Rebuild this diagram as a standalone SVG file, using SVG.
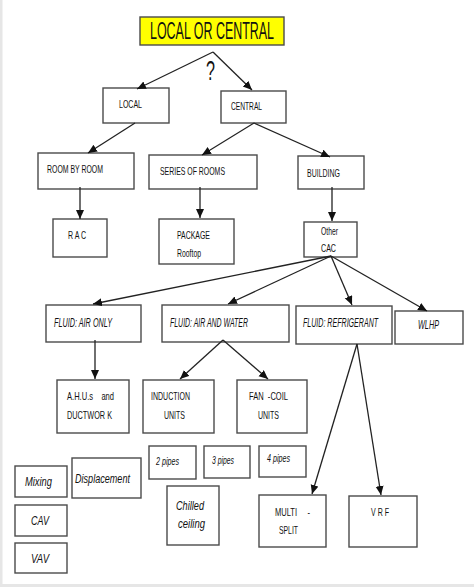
<svg xmlns="http://www.w3.org/2000/svg" width="474" height="587" viewBox="0 0 474 587">
<defs>
<style>
.b{fill:#fff;stroke:#4a4a4a;stroke-width:1.4}
.t{font-family:"Liberation Sans",Arial,sans-serif;font-size:11px;fill:#111}
.i{font-family:"Liberation Sans",Arial,sans-serif;font-size:12px;font-style:italic;fill:#111}
.s{font-size:11px}
.m{font-size:13px}
.c line{stroke:#222;stroke-width:1.3}
</style>
<marker id="a" markerUnits="userSpaceOnUse" markerWidth="10" markerHeight="10" refX="9" refY="4" orient="auto">
<path d="M0,0 L9,4 L0,8 Z" fill="#111"/>
</marker>
</defs>
<rect x="0" y="0" width="474" height="587" fill="#fff"/>
<rect x="0" y="0" width="2.5" height="587" fill="#e6e6e6"/>
<rect x="0" y="584" width="474" height="3" fill="#e6e6e6"/>

<g id="title"><rect x="140" y="17" width="144" height="28" fill="#ffff00" stroke="#4a4a4a" stroke-width="1.4"/><text class="t" style="font-size:23px" x="150" y="39" textLength="124" lengthAdjust="spacingAndGlyphs">LOCAL OR CENTRAL</text></g>
<g id="question"><text class="t" style="font-size:27px" x="206" y="80" textLength="9" lengthAdjust="spacingAndGlyphs">?</text></g>

<g id="local"><rect class="b" x="103" y="88" width="66" height="35"/><text class="t" x="119" y="108" textLength="23" lengthAdjust="spacingAndGlyphs">LOCAL</text></g>
<g id="central"><rect class="b" x="221" y="91" width="65" height="32"/><text class="t" x="231" y="110" textLength="31" lengthAdjust="spacingAndGlyphs">CENTRAL</text></g>

<g id="roombyroom"><rect class="b" x="38" y="153" width="96" height="36"/><text class="t" x="47" y="173" textLength="56" lengthAdjust="spacingAndGlyphs">ROOM BY ROOM</text></g>
<g id="series"><rect class="b" x="149" y="155" width="108" height="34"/><text class="t" x="160" y="175" textLength="65" lengthAdjust="spacingAndGlyphs">SERIES OF ROOMS</text></g>
<g id="building"><rect class="b" x="298" y="156" width="66" height="33"/><text class="t" x="307" y="177" textLength="33" lengthAdjust="spacingAndGlyphs">BUILDING</text></g>

<g id="rac"><rect class="b" x="53" y="219" width="54" height="38"/><text class="t" x="68" y="239" textLength="18" lengthAdjust="spacingAndGlyphs">R A C</text></g>
<g id="package"><rect class="b" x="159" y="219" width="75" height="45"/><text class="t" x="177" y="239" textLength="33" lengthAdjust="spacingAndGlyphs">PACKAGE</text><text class="t" x="177" y="257" textLength="24" lengthAdjust="spacingAndGlyphs">Rooftop</text></g>
<g id="othercac"><rect class="b" x="304" y="222" width="53" height="35"/><text class="t" x="321" y="235" textLength="17" lengthAdjust="spacingAndGlyphs">Other</text><text class="t" x="321" y="252" textLength="15" lengthAdjust="spacingAndGlyphs">CAC</text></g>

<g id="aironly"><rect class="b" x="46" y="305" width="95" height="37"/><text class="i" x="54" y="327" textLength="58" lengthAdjust="spacingAndGlyphs">FLUID: AIR ONLY</text></g>
<g id="airwater"><rect class="b" x="162" y="305" width="127" height="37"/><text class="i" x="170" y="327" textLength="78" lengthAdjust="spacingAndGlyphs">FLUID: AIR AND WATER</text></g>
<g id="refrigerant"><rect class="b" x="296" y="306" width="96" height="38"/><text class="i" transform="translate(303,327) scale(0.59,1)" x="0" y="0">FLUID: REFRIGERANT</text></g>
<g id="wlhp"><rect class="b" x="395" y="311" width="68" height="33"/><text class="i" x="418" y="329" textLength="21" lengthAdjust="spacingAndGlyphs">WLHP</text></g>

<g id="ahus"><rect class="b" x="57" y="380" width="72" height="53"/><text class="t" xml:space="preserve" x="67" y="400" textLength="47" lengthAdjust="spacingAndGlyphs">A.H.U.s    and</text><text class="t" x="67" y="419" textLength="45" lengthAdjust="spacingAndGlyphs">DUCTWOR K</text></g>
<g id="induction"><rect class="b" x="143" y="380" width="71" height="53"/><text class="t" x="151" y="400" textLength="39" lengthAdjust="spacingAndGlyphs">INDUCTION</text><text class="t" x="164" y="419" textLength="21" lengthAdjust="spacingAndGlyphs">UNITS</text></g>
<g id="fancoil"><rect class="b" x="237" y="380" width="70" height="53"/><text class="t" xml:space="preserve" x="249" y="400" textLength="39" lengthAdjust="spacingAndGlyphs">FAN  -COIL</text><text class="t" x="258" y="419" textLength="21" lengthAdjust="spacingAndGlyphs">UNITS</text></g>

<g id="pipes2"><rect class="b" x="149" y="446" width="47" height="33"/><text class="i s" x="156" y="465" textLength="23" lengthAdjust="spacingAndGlyphs">2 pipes</text></g>
<g id="pipes3"><rect class="b" x="204" y="446" width="46" height="32"/><text class="i s" x="212" y="464" textLength="22" lengthAdjust="spacingAndGlyphs">3 pipes</text></g>
<g id="pipes4"><rect class="b" x="259" y="446" width="47" height="31"/><text class="i s" x="267" y="462" textLength="23" lengthAdjust="spacingAndGlyphs">4 pipes</text></g>
<g id="chilled"><rect class="b" x="167" y="486" width="52" height="59"/><text class="i m" x="176" y="510" textLength="28" lengthAdjust="spacingAndGlyphs">Chilled</text><text class="i m" x="178" y="528" textLength="27" lengthAdjust="spacingAndGlyphs">ceiling</text></g>

<g id="mixing"><rect class="b" x="15" y="466" width="52" height="31"/><text class="i m" x="25" y="486" textLength="27" lengthAdjust="spacingAndGlyphs">Mixing</text></g>
<g id="displacement"><rect class="b" x="72" y="458" width="69" height="40"/><text class="i m" x="75" y="483" textLength="55" lengthAdjust="spacingAndGlyphs">Displacement</text></g>
<g id="cav"><rect class="b" x="15" y="505" width="52" height="31"/><text class="i m" x="31" y="525" textLength="18" lengthAdjust="spacingAndGlyphs">CAV</text></g>
<g id="vav"><rect class="b" x="15" y="543" width="52" height="30"/><text class="i m" x="31" y="563" textLength="18" lengthAdjust="spacingAndGlyphs">VAV</text></g>

<g id="multisplit"><rect class="b" x="259" y="495" width="67" height="52"/><text class="t" xml:space="preserve" x="275" y="516" textLength="35" lengthAdjust="spacingAndGlyphs">MULTI     -</text><text class="t" x="279" y="534" textLength="19" lengthAdjust="spacingAndGlyphs">SPLIT</text></g>
<g id="vrf"><rect class="b" x="349" y="496" width="68" height="51"/><text class="t" x="371" y="516" textLength="18" lengthAdjust="spacingAndGlyphs">V R F</text></g>

<g id="connectors" class="c">
<line x1="213" y1="52" x2="137" y2="89" marker-end="url(#a)"/>
<line x1="213" y1="52" x2="252" y2="90" marker-end="url(#a)"/>
<line x1="135" y1="123" x2="88" y2="153" marker-end="url(#a)"/>
<line x1="254" y1="123" x2="202" y2="155" marker-end="url(#a)"/>
<line x1="254" y1="123" x2="330" y2="157" marker-end="url(#a)"/>
<line x1="80" y1="187" x2="80" y2="219" marker-end="url(#a)"/>
<line x1="200" y1="187" x2="200" y2="218" marker-end="url(#a)"/>
<line x1="332" y1="187" x2="332" y2="221" marker-end="url(#a)"/>
<line x1="331" y1="256" x2="93" y2="304" marker-end="url(#a)"/>
<line x1="331" y1="256" x2="228" y2="304" marker-end="url(#a)"/>
<line x1="331" y1="256" x2="352" y2="305" marker-end="url(#a)"/>
<line x1="331" y1="256" x2="427" y2="311" marker-end="url(#a)"/>
<line x1="95" y1="340" x2="95" y2="379" marker-end="url(#a)"/>
<line x1="223" y1="340" x2="180" y2="379" marker-end="url(#a)"/>
<line x1="223" y1="340" x2="268" y2="379" marker-end="url(#a)"/>
<line x1="357" y1="344" x2="312" y2="494" marker-end="url(#a)"/>
<line x1="357" y1="344" x2="381" y2="495" marker-end="url(#a)"/>
</g>
</svg>
